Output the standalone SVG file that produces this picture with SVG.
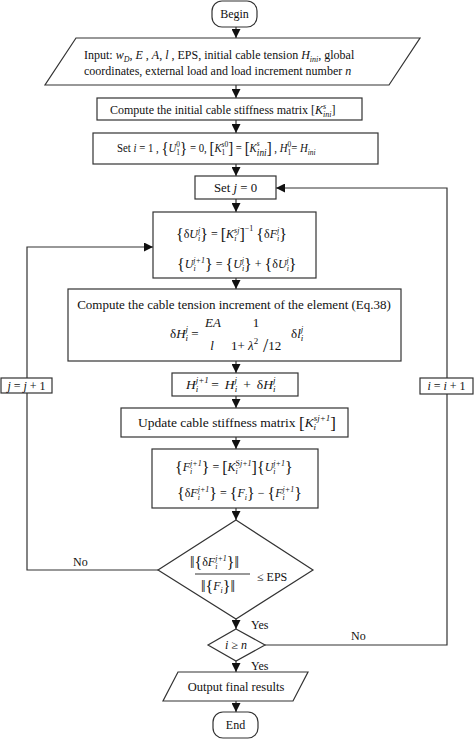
<svg xmlns="http://www.w3.org/2000/svg" width="474" height="740" viewBox="0 0 474 740">
<defs>
<style>
.t{font-family:"Liberation Serif","Times New Roman",serif;font-size:12px;fill:#111}
.it{font-style:italic}
.sm{font-size:8px}
.sm9{font-size:9px}
.br{font-size:16px}
.br17{font-size:17px}
.box{fill:#fff;stroke:#333;stroke-width:1.2}
.ln{fill:none;stroke:#333;stroke-width:1.2}
</style>
<marker id="ah" markerUnits="userSpaceOnUse" markerWidth="9" markerHeight="9" refX="9" refY="4.5" orient="auto">
<path d="M0,0 L9,4.5 L0,9 z" fill="#111"/>
</marker>
</defs>
<rect width="474" height="740" fill="#fff"/>

<g id="connectors">
<path class="ln" marker-end="url(#ah)" d="M236,27 V38"/>
<path class="ln" marker-end="url(#ah)" d="M236,85 V98"/>
<path class="ln" marker-end="url(#ah)" d="M236,120 V133"/>
<path class="ln" marker-end="url(#ah)" d="M236,164 V176"/>
<path class="ln" marker-end="url(#ah)" d="M236,199 V212"/>
<path class="ln" marker-end="url(#ah)" d="M236,278 V289"/>
<path class="ln" marker-end="url(#ah)" d="M236,361 V373"/>
<path class="ln" marker-end="url(#ah)" d="M236,396 V408"/>
<path class="ln" marker-end="url(#ah)" d="M236,437 V449"/>
<path class="ln" marker-end="url(#ah)" d="M236,508 V520"/>
<path class="ln" marker-end="url(#ah)" d="M236,619 V629"/>
<path class="ln" marker-end="url(#ah)" d="M236,661 V672"/>
<path class="ln" marker-end="url(#ah)" d="M236,701 V712"/>
<path class="ln" marker-end="url(#ah)" d="M158,570 H27 V247 H153"/>
<path class="ln" marker-end="url(#ah)" d="M265,645 H447 V188 H276"/>
<text class="t" x="73" y="566">No</text>
<text class="t" x="351" y="640">No</text>
<text class="t" x="251" y="629">Yes</text>
<text class="t" x="251" y="670">Yes</text>
</g>

<g id="begin">
<rect class="box" x="212" y="1" width="45" height="26" rx="10"/>
<text class="t" x="234.5" y="18" text-anchor="middle">Begin</text>
</g>

<g id="input">
<polygon class="box" points="76,38 420,38 389,85 45,85"/>
<text class="t" x="84" y="59"><tspan>Input: </tspan><tspan class="it">w</tspan><tspan class="sm it" y="62">D</tspan><tspan y="59">, </tspan><tspan class="it">E</tspan><tspan> , </tspan><tspan class="it">A</tspan><tspan>, </tspan><tspan class="it">l</tspan><tspan> , EPS, initial cable tension </tspan><tspan class="it">H</tspan><tspan class="sm it" y="62">ini</tspan><tspan y="59">, global</tspan></text>
<text class="t" x="84" y="75">coordinates, external load and load increment number <tspan class="it">n</tspan></text>
</g>

<g id="compute-initial">
<rect class="box" x="97" y="98" width="265" height="22"/>
<text class="t" x="110" y="114"><tspan>Compute the initial cable stiffness matrix [</tspan><tspan class="it">K</tspan><tspan class="sm it" y="109">s</tspan><tspan class="sm it" y="117" dx="-3.1">ini</tspan><tspan y="114">]</tspan></text>
</g>

<g id="set-i">
<rect class="box" x="93" y="133" width="285" height="31"/>
<text class="t" x="117" y="152" style="font-size:11.6px" transform="translate(117 0) scale(0.93 1) translate(-117 0)"><tspan>Set </tspan><tspan class="it">i</tspan><tspan> = 1 , </tspan><tspan class="br" y="154">{</tspan><tspan class="it" y="152">U</tspan><tspan class="sm" y="147">0</tspan><tspan class="sm" y="155" dx="-4">1</tspan><tspan class="br" y="154">}</tspan><tspan y="152"> = 0, </tspan><tspan class="br" y="154">[</tspan><tspan class="it" y="152">K</tspan><tspan class="sm it" y="147">s</tspan><tspan class="sm" y="147">0</tspan><tspan class="sm" y="155" dx="-7.1">1</tspan><tspan class="br" y="154" dx="3.1">]</tspan><tspan y="152"> = </tspan><tspan class="br" y="154">[</tspan><tspan class="it" y="152">K</tspan><tspan class="sm it" y="146">s</tspan><tspan class="it" y="156" dx="-3.1" style="font-size:10px">ini</tspan><tspan class="br" y="154">]</tspan><tspan y="152"> , </tspan><tspan class="it">H</tspan><tspan class="sm" y="147">0</tspan><tspan class="sm" y="155" dx="-4">1</tspan><tspan y="152">= </tspan><tspan class="it">H</tspan><tspan class="sm it" y="155">ini</tspan></text>
</g>

<g id="set-j">
<rect class="box" x="195" y="176" width="81" height="23"/>
<text class="t" x="235.5" y="192" text-anchor="middle" style="font-size:12.8px">Set <tspan class="it">j</tspan> = 0</text>
</g>

<g id="displacement">
<rect class="box" x="153" y="212" width="163" height="66"/>
<text class="t" x="176" y="238"><tspan class="br" y="240">{</tspan><tspan y="238">δ</tspan><tspan class="it">U</tspan><tspan class="sm it" y="233">j</tspan><tspan class="sm it" y="241" dx="-2.2">i</tspan><tspan class="br" y="240">}</tspan><tspan y="238"> = </tspan><tspan class="br" y="240">[</tspan><tspan class="it" y="238">K</tspan><tspan class="sm it" y="233">sj</tspan><tspan class="sm it" y="241" dx="-5.3">i</tspan><tspan class="br" y="240" dx="3.1">]</tspan><tspan class="sm" y="231">−1</tspan><tspan y="238"> </tspan><tspan class="br" y="240">{</tspan><tspan y="238">δ</tspan><tspan class="it">F</tspan><tspan class="sm it" y="233">j</tspan><tspan class="sm it" y="241" dx="-2.2">i</tspan><tspan class="br" y="240">}</tspan></text>
<text class="t" x="177" y="268"><tspan class="br" y="270">{</tspan><tspan class="it" y="268">U</tspan><tspan class="sm it" y="263">j+1</tspan><tspan class="sm it" y="271" dx="-11.6">i</tspan><tspan class="br" y="270" dx="9.4">}</tspan><tspan y="268"> = </tspan><tspan class="br" y="270">{</tspan><tspan class="it" y="268">U</tspan><tspan class="sm it" y="263">j</tspan><tspan class="sm it" y="271" dx="-2.2">i</tspan><tspan class="br" y="270">}</tspan><tspan y="268"> + </tspan><tspan class="br" y="270">{</tspan><tspan y="268">δ</tspan><tspan class="it">U</tspan><tspan class="sm it" y="263">j</tspan><tspan class="sm it" y="271" dx="-2.2">i</tspan><tspan class="br" y="270">}</tspan></text>
</g>

<g id="tension-increment">
<rect class="box" x="68" y="289" width="333" height="72"/>
<text class="t" x="234" y="309" text-anchor="middle" style="font-size:13px">Compute the cable tension increment of the element (Eq.38)</text>
<text class="t" x="170" y="338" style="font-size:13px"><tspan>δ</tspan><tspan class="it">H</tspan><tspan class="sm9 it" y="332">j</tspan><tspan class="sm9 it" y="341" dx="-2.5">i</tspan><tspan y="338"> =</tspan></text>
<text class="t it" x="213" y="327" text-anchor="middle" style="font-size:13px">EA</text>
<text class="t it" x="212" y="350" text-anchor="middle" style="font-size:13px">l</text>
<text class="t" x="256" y="327" text-anchor="middle" style="font-size:13px">1</text>
<text class="t" x="231" y="350" style="font-size:13px"><tspan>1+ </tspan><tspan class="it">λ</tspan><tspan class="sm9" y="344">2</tspan><tspan style="font-size:19px" y="352"> /</tspan><tspan y="350">12</tspan></text>
<text class="t" x="291" y="338" style="font-size:13px"><tspan>δ</tspan><tspan class="it">l</tspan><tspan class="sm9 it" y="332">j</tspan><tspan class="sm9 it" y="341" dx="-2.5">i</tspan></text>
</g>

<g id="tension-update">
<rect class="box" x="172" y="373" width="126" height="23"/>
<text class="t" x="186" y="389" style="font-size:13.5px"><tspan class="it">H</tspan><tspan class="sm9 it" y="383">j+1</tspan><tspan class="sm9 it" y="392" dx="-13.1">i</tspan><tspan y="389" dx="13">=</tspan><tspan class="it" dx="6">H</tspan><tspan class="sm9 it" y="383">j</tspan><tspan class="sm9 it" y="392" dx="-2.5">i</tspan><tspan y="389" dx="6">+</tspan><tspan dx="6">δ</tspan><tspan class="it">H</tspan><tspan class="sm9 it" y="383">j</tspan><tspan class="sm9 it" y="392" dx="-2.5">i</tspan></text>
</g>

<g id="update-stiffness">
<rect class="box" x="121" y="408" width="227" height="29"/>
<text class="t" x="138" y="427" style="font-size:13.5px"><tspan>Update cable stiffness matrix  </tspan><tspan class="br17" y="429">[</tspan><tspan class="it" y="427">K</tspan><tspan class="sm9 it" y="421">sj+1</tspan><tspan class="sm9 it" y="430" dx="-16.6">i</tspan><tspan class="br17" y="429" dx="14.1">]</tspan></text>
</g>

<g id="force">
<rect class="box" x="152" y="449" width="166" height="59"/>
<text class="t" x="175" y="471"><tspan class="br" y="473">{</tspan><tspan class="it" y="471">F</tspan><tspan class="sm it" y="466">j+1</tspan><tspan class="sm it" y="474" dx="-11.6">i</tspan><tspan class="br" y="473" dx="9.4">}</tspan><tspan y="471"> = </tspan><tspan class="br" y="473">[</tspan><tspan class="it" y="471">K</tspan><tspan class="sm" y="466">S</tspan><tspan class="sm it" y="466">j+1</tspan><tspan class="sm it" y="474" dx="-16">i</tspan><tspan class="br" y="473" dx="13.8">]</tspan><tspan class="br" y="473">{</tspan><tspan class="it" y="471">U</tspan><tspan class="sm it" y="466">j+1</tspan><tspan class="sm it" y="474" dx="-11.6">i</tspan><tspan class="br" y="473" dx="9.4">}</tspan></text>
<text class="t" x="177" y="497"><tspan class="br" y="499">{</tspan><tspan y="497">δ</tspan><tspan class="it">F</tspan><tspan class="sm it" y="492">j+1</tspan><tspan class="sm it" y="500" dx="-11.6">i</tspan><tspan class="br" y="499" dx="9.4">}</tspan><tspan y="497"> = </tspan><tspan class="br" y="499">{</tspan><tspan class="it" y="497">F</tspan><tspan class="sm it" y="500">i</tspan><tspan class="br" y="499">}</tspan><tspan y="497"> − </tspan><tspan class="br" y="499">{</tspan><tspan class="it" y="497">F</tspan><tspan class="sm it" y="492">j+1</tspan><tspan class="sm it" y="500" dx="-11.6">i</tspan><tspan class="br" y="499" dx="9.4">}</tspan></text>
</g>

<g id="convergence-check">
<polygon class="box" points="236,520 313,570 236,619 158,570"/>
<text class="t" x="190" y="566"><tspan class="br" y="568">‖</tspan><tspan class="br">{</tspan><tspan y="566">δ</tspan><tspan class="it">F</tspan><tspan class="sm it" y="561">j+1</tspan><tspan class="sm it" y="569" dx="-11.6">i</tspan><tspan class="br" y="568" dx="9.4">}</tspan><tspan class="br">‖</tspan></text>
<line class="ln" x1="195" y1="574" x2="250" y2="574"/>
<text class="t" x="201" y="590"><tspan class="br" y="592">‖</tspan><tspan class="br">{</tspan><tspan class="it" y="590">F</tspan><tspan class="sm it" y="593">i</tspan><tspan class="br" y="592">}</tspan><tspan class="br">‖</tspan></text>
<text class="t" x="257" y="581">≤ EPS</text>
</g>

<g id="increment-check">
<polygon class="box" points="236,629 265,645 236,661 208,645"/>
<text class="t" x="236" y="649" text-anchor="middle"><tspan class="it">i</tspan> ≥ <tspan class="it">n</tspan></text>
</g>

<g id="j-increment">
<rect class="box" x="1" y="378" width="51" height="15"/>
<text class="t" x="26.5" y="390" text-anchor="middle"><tspan class="it">j</tspan> = <tspan class="it">j</tspan> + 1</text>
</g>

<g id="i-increment">
<rect class="box" x="420" y="378" width="53" height="16"/>
<text class="t" x="446.5" y="390" text-anchor="middle"><tspan class="it">i</tspan> = <tspan class="it">i</tspan> + 1</text>
</g>

<g id="output">
<polygon class="box" points="178,672 308,672 293,701 163,701"/>
<text class="t" x="236" y="691" text-anchor="middle" style="font-size:12.5px">Output final results</text>
</g>

<g id="end">
<rect class="box" x="213" y="712" width="45" height="26" rx="10"/>
<text class="t" x="235.5" y="729" text-anchor="middle">End</text>
</g>
</svg>
